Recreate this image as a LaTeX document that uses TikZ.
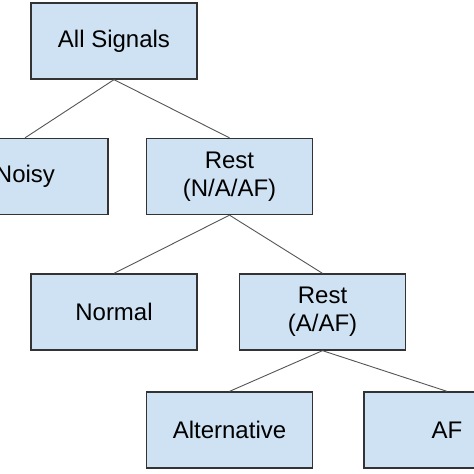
\documentclass[tikz,border=0pt]{standalone}
\usepackage{fontspec}
\setmainfont{Liberation Sans}
\usepackage{tikz}
\definecolor{boxblue}{HTML}{CFE2F3}
\definecolor{boxline}{HTML}{333333}
\definecolor{edgegray}{HTML}{555555}
\begin{document}
\begin{tikzpicture}[x=1pt, y=-1pt,
    sig/.style={draw=boxline, line width=1.3pt, fill=boxblue, minimum width=166pt, minimum height=76pt,
      inner sep=0pt, align=center, font=\fontsize{24}{28}\selectfont},
    edge/.style={draw=edgegray, line width=0.9pt}]
        \clip (0,0) rectangle (474,474);
        \fill[white] (0,0) rectangle (474,474);
        \node[sig] (all) at (114,41) {All Signals};
        \node[sig] (noisy) at (25,176.5) {Noisy};
        \node[sig] (rest1) at (229.5,176.5) {Rest\\(N/A/AF)};
        \node[sig] (normal) at (114,312) {Normal};
        \node[sig] (rest2) at (322.5,312) {Rest\\(A/AF)};
        \node[sig] (alt) at (229.5,430) {Alternative};
        \node[sig] (af) at (447,430) {AF};

        \draw[edge] (all.south) -- (noisy.north);
        \draw[edge] (all.south) -- (rest1.north);
        \draw[edge] (rest1.south) -- (normal.north);
        \draw[edge] (rest1.south) -- (rest2.north);
        \draw[edge] (rest2.south) -- (alt.north);
        \draw[edge] (rest2.south) -- (af.north);
      \end{tikzpicture}
\end{document}
